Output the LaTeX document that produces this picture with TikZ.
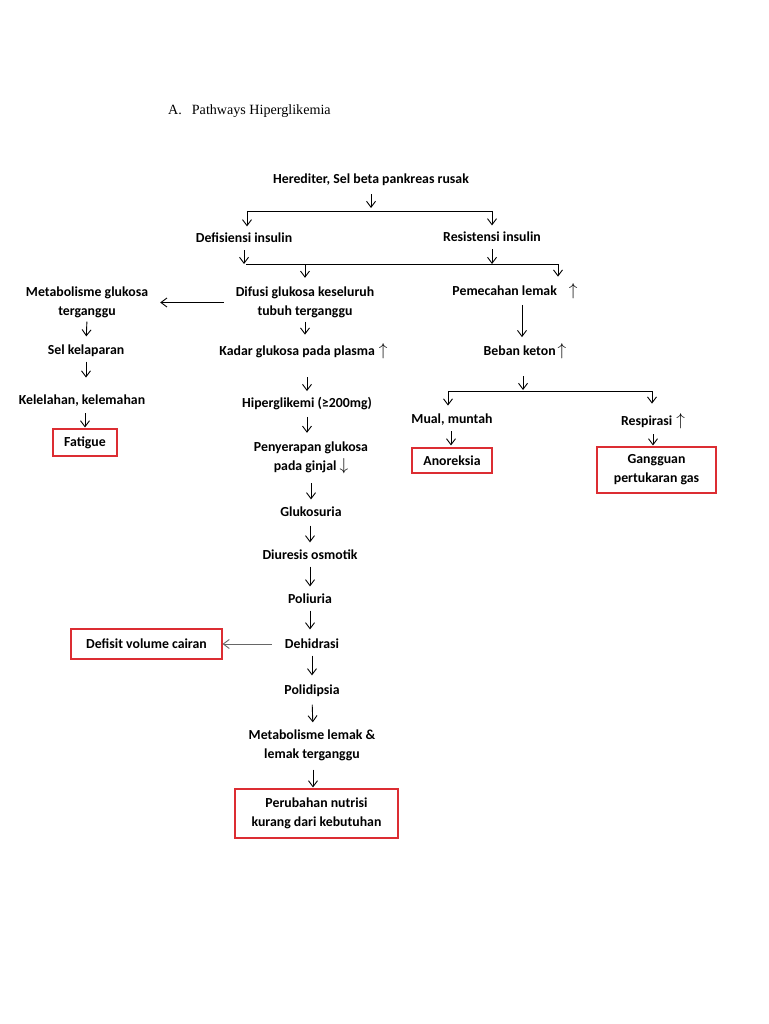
\documentclass[tikz,border=0pt]{standalone}
\usepackage{fontspec}
\setmainfont{Carlito}
\newfontfamily\titlefont{Liberation Serif}
\usetikzlibrary{arrows.meta}
\definecolor{boxred}{RGB}{220,45,50}
\newcommand{\naik}{{\fontsize{17}{17}\selectfont$\uparrow$}}
\newcommand{\turun}{{\fontsize{17}{17}\selectfont$\downarrow$}}
\tikzset{
  lbl/.style={inner sep=1pt, align=center, font=\fontsize{13.8}{19}\selectfont\bfseries},
  redbox/.style={lbl, draw=boxred, line width=1.1pt},
  arr/.style={-{Straight Barb[length=6pt,width=9pt]}, line width=0.9pt, shorten <=6pt, shorten >=7pt},
  bar/.style={line width=0.9pt}
}
\begin{document}
\begin{tikzpicture}[x=1pt,y=-1pt]
\useasboundingbox[fill=white] (0,0) rectangle (768,1024);

% title
\node[anchor=base west, inner sep=0pt, font=\titlefont\fontsize{14.1}{16}\selectfont] (title) at (168,115) {A.\hspace{10pt}Pathways Hiperglikemia};

% top
\node[lbl] (hered) at (371,180) {Herediter, Sel beta pankreas rusak};
\node[lbl] (defis) at (244,238) {Defisiensi insulin};
\node[lbl] (resis) at (492,237) {Resistensi insulin};
\coordinate (b1l) at (247,211);
\coordinate (b1r) at (492,211);
\coordinate (b2l) at (246,264);
\coordinate (b2r) at (558,264);

% left column
\node[lbl] (metab) at (87,302.5) {Metabolisme glukosa\\terganggu};
\node[lbl] (sel) at (86,351) {Sel kelaparan};
\node[lbl] (lelah) at (82,401) {Kelelahan, kelemahan};
\node[redbox, minimum width=64pt, minimum height=27pt] (fatig) at (85,442.5) {Fatigue};

% main column
\node[lbl] (difusi) at (305,302.5) {Difusi glukosa keseluruh\\tubuh terganggu};
\node[lbl] (kadar) at (303.5,351) {Kadar glukosa pada plasma\hspace{4pt}\naik};
\node[lbl] (hiper) at (307,404) {Hiperglikemi (≥200mg)};
\node[lbl] (serap) at (311,457.5) {Penyerapan glukosa\\pada ginjal \turun};
\node[lbl] (gluko) at (311,512) {Glukosuria};
\node[lbl] (diur) at (310,555) {Diuresis osmotik};
\node[lbl] (poli) at (310,599) {Poliuria};
\node[lbl] (dehid) at (312,644) {Dehidrasi};
\node[redbox, minimum width=151pt, minimum height=30pt] (defvol) at (146.5,644) {Defisit volume cairan};
\node[lbl] (polid) at (312,691) {Polidipsia};
\node[lbl] (metl) at (312,745.5) {Metabolisme lemak \&\\lemak terganggu};
\node[redbox, minimum width=163pt, minimum height=49pt] (nutri) at (316.5,813.5) {Perubahan nutrisi\\kurang dari kebutuhan};

% right column
\node[lbl] (pemec) at (515,291) {Pemecahan lemak\hspace{12pt}\naik};
\node[lbl] (beban) at (525,351) {Beban keton\hspace{2pt}\naik};
\coordinate (b3l) at (448,391);
\coordinate (b3r) at (652,391);
\node[lbl] (mual) at (452,420) {Mual, muntah};
\node[lbl] (respi) at (653,421) {Respirasi\hspace{4pt}\naik};
\node[redbox, minimum width=80pt, minimum height=25pt] (anor) at (452,460.5) {Anoreksia};
\node[redbox, minimum width=119pt, minimum height=46pt] (gas) at (656.5,470) {Gangguan\\pertukaran gas};

% bars
\draw[bar] (b1l) -- (b1r);
\draw[bar] (b2l) -- (b2r);
\draw[bar] (b3l) -- (b3r);

% arrows top
\draw[arr, shorten <=7pt, shorten >=3pt] (hered.south) -- (hered.south |- b1l);
\draw[arr, shorten <=0pt, shorten >=5.5pt] (b1l) -- (b1l |- defis.north);
\draw[arr, shorten <=0pt, shorten >=5.5pt] (b1r) -- (b1r |- resis.north);
\draw[arr, shorten >=0pt] (defis.south) -- (defis.south |- b2l);
\draw[arr, shorten >=0pt] (resis.south) -- (resis.south |- b2l);
\draw[arr, shorten <=0pt, shorten >=8pt] (b2l -| difusi.north) -- (difusi.north);
\draw[arr, shorten <=0pt, shorten >=5.5pt] (b2r) -- (b2r |- pemec.north);

% arrows left
\draw[arr, shorten <=11pt, shorten >=11pt] (difusi.west) -- (metab.east |- difusi.west);
\draw[arr, shorten <=2.5pt, shorten >=7.5pt] (metab.south) -- (sel.north);
\draw[arr, shorten <=3.5pt, shorten >=16.5pt] (sel.south) -- (sel.south |- lelah.north);
\draw[arr, shorten <=5.5pt, shorten >=1pt] (lelah.south -| fatig.north) -- (fatig.north);

% arrows main
\draw[arr, shorten <=2.5pt, shorten >=7.5pt] (difusi.south) -- (difusi.south |- kadar.north);
\draw[arr, shorten <=17.5pt, shorten >=5.5pt] (hiper.north |- kadar.south) -- (hiper.north);
\draw[arr, shorten <=5.5pt, shorten >=7.5pt] (hiper.south) -- (hiper.south |- serap.north);
\draw[arr, shorten <=8.5pt, shorten >=6.5pt] (gluko.north |- serap.south) -- (gluko.north);
\draw[arr, shorten <=7.5pt, shorten >=6.5pt] (diur.north |- gluko.south) -- (diur.north);
\draw[arr, shorten <=5.5pt, shorten >=6.5pt] (diur.south) -- (poli.north);
\draw[arr, shorten <=5.5pt, shorten >=8.5pt] (poli.south) -- (poli.south |- dehid.north);
\draw[arr, black!60, shorten <=12pt, shorten >=0pt] (dehid.west) -- (defvol.east |- dehid.west);
\draw[arr, shorten <=5.5pt, shorten >=8.5pt] (dehid.south) -- (polid.north);
\draw[arr, shorten <=6.5pt, shorten >=6.5pt] (polid.south) -- ([xshift=1pt]metl.north);
\draw[arr, shorten <=7.5pt, shorten >=1pt] ([xshift=1pt]metl.south) -- ([xshift=1pt]metl.south |- nutri.north);

% arrows right
\draw[arr, shorten <=5pt, shorten >=5pt] ([xshift=-3pt]pemec.south -| beban.north) -- ([xshift=-3pt]beban.north);
\draw[arr, shorten <=16.5pt, shorten >=1pt] ([xshift=-2pt]beban.south) -- ([xshift=-2pt]beban.south |- b3l);
\draw[arr, shorten <=0pt, shorten >=7.5pt] (b3l) -- (b3l |- mual.north);
\draw[arr, shorten <=0pt, shorten >=8.5pt] (b3r) -- (b3r |- respi.north);
\draw[arr, shorten <=4.5pt, shorten >=2pt] ([xshift=-1pt]mual.south) -- ([xshift=-1pt]mual.south |- anor.north);
\draw[arr, shorten <=4.5pt, shorten >=1pt] (respi.south) -- (respi.south |- gas.north);
\end{tikzpicture}
\end{document}
